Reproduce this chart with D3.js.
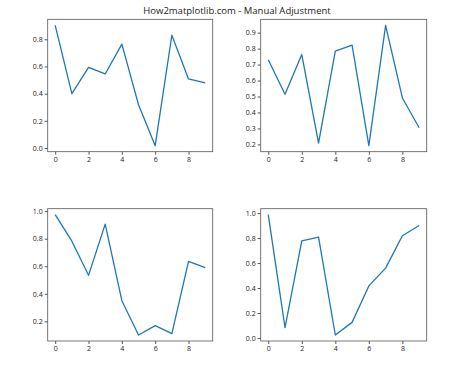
<!DOCTYPE html>
<html>
<head>
<meta charset="utf-8">
<script src="https://cdn.jsdelivr.net/npm/d3@7"></script>
<style>
	body { margin: 0; background: #fff; }
	text { font-family: "Open Sans", "Noto Sans", sans-serif; fill: #222; }
	.tick text { font-size: 7px; }
	.tick line, .domain { stroke: #555; }
</style>
</head>
<body>
<div id="chart"></div>
<script>
var title = "How2matplotlib.com - Manual Adjustment";
var xs = [0, 1, 2, 3, 4, 5, 6, 7, 8, 9];

var series1 = [0.903, 0.40, 0.594, 0.545, 0.765, 0.318, 0.017, 0.83, 0.508, 0.479];
var series2 = [0.73, 0.514, 0.763, 0.208, 0.784, 0.822, 0.192, 0.946, 0.491, 0.304];
var series3 = [0.974, 0.782, 0.534, 0.906, 0.35, 0.101, 0.169, 0.111, 0.635, 0.59];
var series4 = [0.987, 0.083, 0.778, 0.807, 0.024, 0.125, 0.417, 0.559, 0.818, 0.901];

var yTicks1 = [0, 0.2, 0.4, 0.6, 0.8];
var yTicks2 = [0.2, 0.3, 0.4, 0.5, 0.6, 0.7, 0.8, 0.9];
var yTicks3 = [0.2, 0.4, 0.6, 0.8, 1.0];
var yTicks4 = [0, 0.2, 0.4, 0.6, 0.8, 1.0];
var xTicks = [0, 2, 4, 6, 8];

var width = 474, height = 379;

var svg = d3.select("#chart").append("svg")
	.attr("width", width)
	.attr("height", height);

svg.append("text")
	.attr("x", 237)
	.attr("y", 14)
	.attr("text-anchor", "middle")
	.style("font-size", "9.5px")
	.text(title);

var panels = [
	{ data: series1, ticks: yTicks1, left: 47.7, top: 19.3, w: 165, h: 132.4 },
	{ data: series2, ticks: yTicks2, left: 260.7, top: 19.3, w: 166, h: 132.4 },
	{ data: series3, ticks: yTicks3, left: 47.7, top: 208.7, w: 165, h: 132.3 },
	{ data: series4, ticks: yTicks4, left: 260.7, top: 208.7, w: 166, h: 132.3 }
];

function padded(ext){
	var pad = (ext[1] - ext[0]) * 0.05;
	return [ext[0] - pad, ext[1] + pad];
}

panels.forEach(function(p){
	var g = svg.append("g")
		.attr("transform", "translate(" + p.left + "," + p.top + ")");

	var x = d3.scaleLinear().domain(padded(d3.extent(xs))).range([0, p.w]);
	var y = d3.scaleLinear().domain(padded(d3.extent(p.data))).range([p.h, 0]);

	var fmt = d3.format(".1f");

	g.append("g")
		.attr("transform", "translate(0," + p.h + ")")
		.call(d3.axisBottom(x).tickValues(xTicks).tickSize(3).tickPadding(2).tickSizeOuter(0))
		.call(function(a){ a.select(".domain").remove(); });

	g.append("g")
		.call(d3.axisLeft(y).tickValues(p.ticks).tickFormat(fmt).tickSize(3).tickPadding(2).tickSizeOuter(0))
		.call(function(a){ a.select(".domain").remove(); });

	g.append("rect")
		.attr("width", p.w)
		.attr("height", p.h)
		.attr("fill", "none")
		.attr("stroke", "#555")
		.attr("stroke-width", 0.8);

	g.append("path")
		.datum(p.data)
		.attr("fill", "none")
		.attr("stroke", "#1f77b4")
		.attr("stroke-width", 1.3)
		.attr("stroke-linejoin", "round")
		.attr("d", d3.line()
			.x(function(d, i){ return x(xs[i]); })
			.y(function(d){ return y(d); }));
});
</script>
</body>
</html>
